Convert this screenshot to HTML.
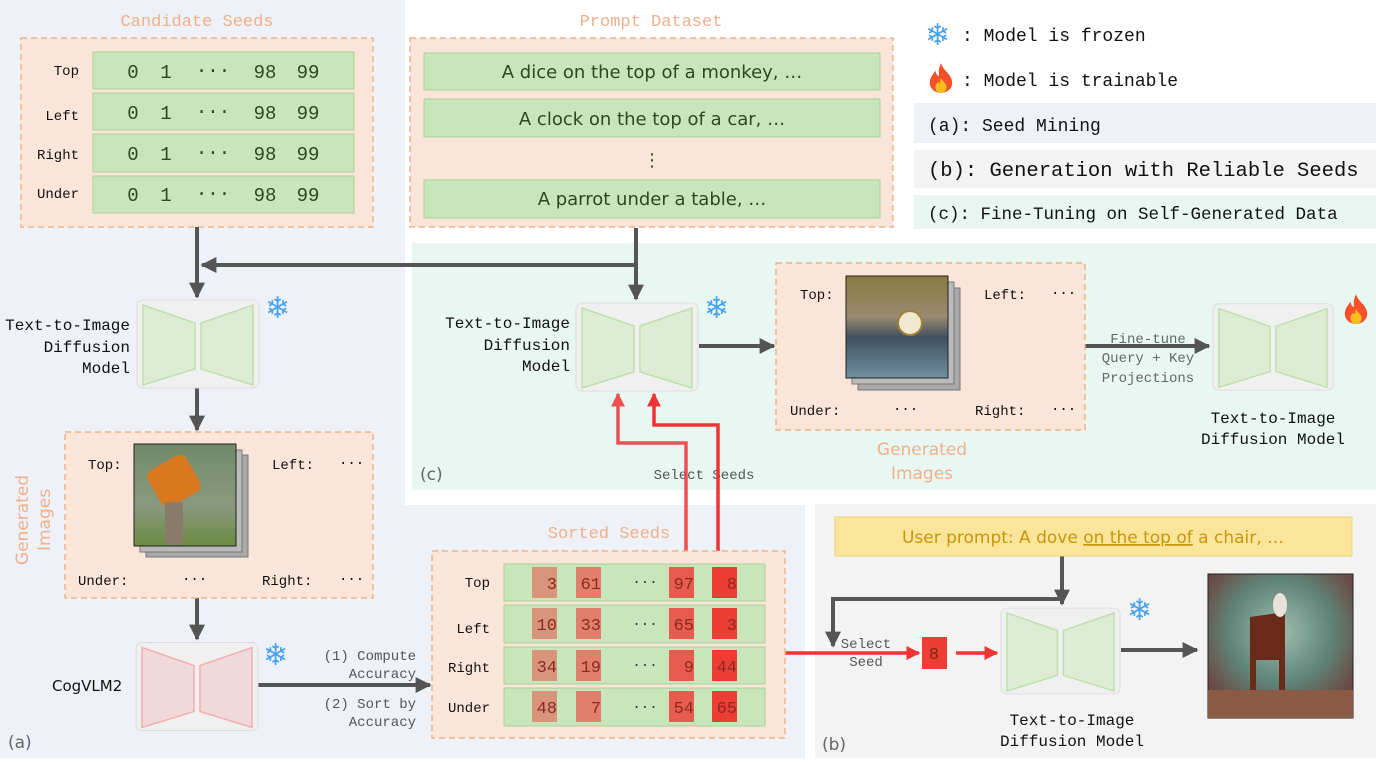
<!DOCTYPE html>
<html><head><meta charset="utf-8"><style>
html,body{margin:0;padding:0;background:#fff;}
svg{display:block;}
.m{font-family:"Liberation Mono","DejaVu Sans Mono",monospace;}
.s{font-family:"DejaVu Sans","Liberation Sans",sans-serif;}
</style></head><body>
<svg width="1376" height="763" viewBox="0 0 1376 763" xmlns="http://www.w3.org/2000/svg">
<defs>
<marker id="ag" viewBox="0 0 10 10" refX="9" refY="5" markerWidth="4" markerHeight="4" orient="auto"><path d="M0,0L10,5L0,10z" fill="#555"/></marker>
<marker id="ar" viewBox="0 0 10 10" refX="9" refY="5" markerWidth="4" markerHeight="4" orient="auto"><path d="M0,0L10,5L0,10z" fill="#ee3434"/></marker>
<symbol id="model" viewBox="0 0 124 90"><rect x="1" y="1" width="122" height="88" rx="6" fill="#f0f0f0" stroke="#ddd"/><path d="M7,6L59,24L59,70L7,86z" fill="#ddecd2" stroke="#bfe0ad" stroke-width="1.5"/><path d="M65,24L117,6L117,86L65,70z" fill="#ddecd2" stroke="#bfe0ad" stroke-width="1.5"/></symbol>
<symbol id="modelp" viewBox="0 0 124 90"><rect x="1" y="1" width="122" height="88" rx="6" fill="#f0f0f0" stroke="#ddd"/><path d="M7,6L59,24L59,70L7,86z" fill="#f2d9d9" stroke="#f0b0b0" stroke-width="1.5"/><path d="M65,24L117,6L117,86L65,70z" fill="#f2d9d9" stroke="#f0b0b0" stroke-width="1.5"/></symbol>
<symbol id="fire" viewBox="0 0 30 34"><path d="M15,1C17,9 27,13 27,22C27,29 21,33 15,33C9,33 3,29 3,22C3,16 7,13 9,9C10,14 12,15 13,15C12,10 13,5 15,1z" fill="#f4502a"/><path d="M15,17C17,21 21,23 21,27C21,31 18,33 15,33C12,33 9,31 9,27C9,24 11,22 12,21C13,23 14,23 14,23C14,21 14,19 15,17z" fill="#fbbd1e"/></symbol>
<linearGradient id="dice" x1="0" y1="0" x2="0" y2="1"><stop offset="0" stop-color="#6f8a68"/><stop offset="0.6" stop-color="#8a9a80"/><stop offset="1" stop-color="#6a8a40"/></linearGradient>
<linearGradient id="road" x1="0" y1="0" x2="0" y2="1"><stop offset="0" stop-color="#8a7a40"/><stop offset="0.4" stop-color="#9a8a70"/><stop offset="0.6" stop-color="#405060"/><stop offset="1" stop-color="#7090a0"/></linearGradient>
<radialGradient id="dove" cx="0.5" cy="0.4" r="0.6"><stop offset="0" stop-color="#9fbdb0"/><stop offset="0.6" stop-color="#5f8378"/><stop offset="1" stop-color="#6a4a44"/></radialGradient>
</defs>

<rect x="0" y="0" width="405" height="758" fill="#eef1f7"/>
<rect x="405" y="505" width="400" height="253" fill="#eef1f7"/>
<rect x="412" y="243" width="964" height="247" fill="#e8f7f2"/>
<rect x="815" y="504" width="561" height="254" fill="#f4f3f3"/>
<rect x="914" y="103" width="462" height="40" fill="#eef1f7"/>
<rect x="914" y="150" width="462" height="38" fill="#f4f3f3"/>
<rect x="914" y="195" width="462" height="34" fill="#e8f7f2"/>

<text x="925" y="45" class="s" font-size="30" fill="#4aa3f0">❄</text>
<text x="962" y="41" class="m" font-size="18" fill="#111">: Model is frozen</text>
<use href="#fire" x="927" y="62" width="28" height="32"/>
<text x="962" y="86" class="m" font-size="18" fill="#111">: Model is trainable</text>
<text x="928" y="131" class="m" font-size="18" fill="#111">(a): Seed Mining</text>
<text x="928" y="176" class="m" font-size="20.5" fill="#111">(b): Generation with Reliable Seeds</text>
<text x="928" y="219" class="m" font-size="17.5" fill="#111">(c): Fine-Tuning on Self-Generated Data</text>

<text x="197" y="26" class="m" font-size="17" fill="#f0b08a" text-anchor="middle">Candidate Seeds</text>
<rect x="21" y="38" width="352" height="189" fill="#fbe5d8" stroke="#f0b48a" stroke-width="1.5" stroke-dasharray="6,4"/>
<g class="m" font-size="14" fill="#111" text-anchor="end">
<text x="79" y="75">Top</text><text x="79" y="120">Left</text><text x="79" y="159">Right</text><text x="79" y="198">Under</text></g>
<g fill="#c9e5bb" stroke="#a7d494">
<rect x="93" y="52" width="261" height="37"/><rect x="93" y="93" width="261" height="37"/><rect x="93" y="134" width="261" height="38"/><rect x="93" y="176" width="261" height="37"/></g>
<g class="m" font-size="19" fill="#2a4a20" text-anchor="middle">
<text x="133" y="78">0</text><text x="166" y="78">1</text><text x="213" y="76">···</text><text x="265" y="78">98</text><text x="308" y="78">99</text>
<text x="133" y="119">0</text><text x="166" y="119">1</text><text x="213" y="117">···</text><text x="265" y="119">98</text><text x="308" y="119">99</text>
<text x="133" y="160">0</text><text x="166" y="160">1</text><text x="213" y="158">···</text><text x="265" y="160">98</text><text x="308" y="160">99</text>
<text x="133" y="201">0</text><text x="166" y="201">1</text><text x="213" y="199">···</text><text x="265" y="201">98</text><text x="308" y="201">99</text></g>

<text x="651" y="26" class="m" font-size="17" fill="#f0b08a" text-anchor="middle">Prompt Dataset</text>
<rect x="410" y="38" width="483" height="189" fill="#fbe5d8" stroke="#f0b48a" stroke-width="1.5" stroke-dasharray="6,4"/>
<g fill="#c9e5bb" stroke="#a7d494">
<rect x="424" y="53" width="456" height="37"/><rect x="424" y="99" width="456" height="38"/><rect x="424" y="180" width="456" height="38"/></g>
<g class="s" font-size="18" fill="#2a4a20" text-anchor="middle">
<text x="652" y="78">A dice on the top of a monkey, …</text>
<text x="652" y="125">A clock on the top of a car, …</text>
<text x="652" y="166">⋮</text>
<text x="652" y="205">A parrot under a table, …</text></g>

<g stroke="#555" stroke-width="4" fill="none">
<line x1="197" y1="227" x2="197" y2="297" marker-end="url(#ag)"/>
<line x1="636" y1="265" x2="202" y2="265" marker-end="url(#ag)"/>
<line x1="636" y1="228" x2="636" y2="299" marker-end="url(#ag)"/>
<line x1="197" y1="388" x2="197" y2="430" marker-end="url(#ag)"/>
<line x1="197" y1="598" x2="197" y2="639" marker-end="url(#ag)"/>
<line x1="258" y1="685" x2="430" y2="685" marker-end="url(#ag)"/>
<line x1="699" y1="346" x2="774" y2="346" marker-end="url(#ag)"/>
<line x1="1085" y1="346" x2="1209" y2="346" marker-end="url(#ag)"/>
<line x1="1121" y1="650" x2="1197" y2="650" marker-end="url(#ag)"/>
<line x1="1062" y1="556" x2="1062" y2="604" marker-end="url(#ag)"/>
<polyline points="1062,599 833,599 833,646" marker-end="url(#ag)"/>
</g>

<use href="#model" x="136" y="299" width="124" height="90"/>
<text x="265" y="318" class="s" font-size="30" fill="#4aa3f0">❄</text>
<g class="m" font-size="16" fill="#111" text-anchor="end"><text x="130" y="330">Text-to-Image</text><text x="130" y="352">Diffusion</text><text x="130" y="373">Model</text></g>

<rect x="65" y="432" width="308" height="166" fill="#fbe5d8" stroke="#f0b48a" stroke-width="1.5" stroke-dasharray="6,4"/>
<rect x="146" y="455" width="102" height="102" fill="#aaa" stroke="#777"/>
<rect x="140" y="450" width="102" height="102" fill="#bbb" stroke="#777"/>
<rect x="134" y="444" width="102" height="102" fill="url(#dice)" stroke="#222"/>
<rect x="152" y="460" width="44" height="42" rx="8" fill="#d9781e" transform="rotate(-30 174 481)"/>
<rect x="165" y="502" width="18" height="43" fill="#8a7a6a"/>
<g class="m" font-size="14" fill="#111"><text x="88" y="469">Top:</text><text x="272" y="469">Left:</text><text x="339" y="467">···</text>
<text x="78" y="585">Under:</text><text x="182" y="583">···</text><text x="262" y="585">Right:</text><text x="339" y="583">···</text></g>
<text transform="translate(28 520) rotate(-90)" class="s" font-size="17" fill="#f0b08a" text-anchor="middle">Generated</text>
<text transform="translate(50 520) rotate(-90)" class="s" font-size="17" fill="#f0b08a" text-anchor="middle">Images</text>

<use href="#modelp" x="135" y="641" width="124" height="91"/>
<text x="263" y="665" class="s" font-size="30" fill="#4aa3f0">❄</text>
<text x="52" y="691" class="s" font-size="15" fill="#111">CogVLM2</text>
<g class="m" font-size="14" fill="#555" text-anchor="end"><text x="416" y="660">(1) Compute</text><text x="416" y="678">Accuracy</text><text x="416" y="708">(2) Sort by</text><text x="416" y="726">Accuracy</text></g>
<text x="8" y="748" class="s" font-size="17" fill="#666">(a)</text>

<use href="#model" x="575" y="302" width="124" height="90"/>
<text x="704" y="318" class="s" font-size="30" fill="#4aa3f0">❄</text>
<g class="m" font-size="16" fill="#111" text-anchor="end"><text x="570" y="328">Text-to-Image</text><text x="570" y="350">Diffusion</text><text x="570" y="371">Model</text></g>
<rect x="776" y="263" width="309" height="167" fill="#fbe5d8" stroke="#f0b48a" stroke-width="1.5" stroke-dasharray="6,4"/>
<rect x="858" y="288" width="102" height="102" fill="#aaa" stroke="#777"/>
<rect x="852" y="282" width="102" height="102" fill="#bbb" stroke="#777"/>
<rect x="846" y="276" width="102" height="102" fill="url(#road)" stroke="#222"/>
<circle cx="910" cy="323" r="12" fill="#f0e8d0" stroke="#a08030" stroke-width="2"/>
<g class="m" font-size="14" fill="#111"><text x="800" y="299">Top:</text><text x="984" y="299">Left:</text><text x="1051" y="297">···</text>
<text x="790" y="415">Under:</text><text x="893" y="413">···</text><text x="975" y="415">Right:</text><text x="1051" y="413">···</text></g>
<g class="s" font-size="17" fill="#f0b08a" text-anchor="middle"><text x="922" y="455">Generated</text><text x="922" y="479">Images</text></g>
<g class="m" font-size="14" fill="#666" text-anchor="middle"><text x="1148" y="343">Fine-tune</text><text x="1148" y="362">Query + Key</text><text x="1148" y="382">Projections</text></g>
<use href="#model" x="1212" y="302" width="122" height="90"/>
<use href="#fire" x="1342" y="292" width="28" height="34"/>
<g class="m" font-size="16" fill="#111" text-anchor="middle"><text x="1273" y="423">Text-to-Image</text><text x="1273" y="444">Diffusion Model</text></g>
<text x="420" y="480" class="s" font-size="17" fill="#666">(c)</text>
<text x="704" y="479" class="m" font-size="14" fill="#555" text-anchor="middle">Select Seeds</text>

<g stroke="#ee3434" stroke-width="3.5" fill="none">
<polyline points="686,551 686,443 618,443 618,394" marker-end="url(#ar)" opacity="0.85"/>
<polyline points="718,551 718,425 654,425 654,394" marker-end="url(#ar)"/>
<line x1="785" y1="653" x2="919" y2="653" marker-end="url(#ar)"/>
<line x1="956" y1="653" x2="997" y2="653" marker-end="url(#ar)"/>
</g>

<text x="609" y="538" class="m" font-size="17" fill="#f0b08a" text-anchor="middle">Sorted Seeds</text>
<rect x="432" y="551" width="353" height="187" fill="#fbe5d8" stroke="#f0b48a" stroke-width="1.5" stroke-dasharray="6,4"/>
<g class="m" font-size="14" fill="#111" text-anchor="end"><text x="490" y="587">Top</text><text x="490" y="633">Left</text><text x="490" y="672">Right</text><text x="490" y="712">Under</text></g>
<g fill="#c9e5bb" stroke="#a7d494">
<rect x="504" y="564" width="261" height="37"/><rect x="504" y="605" width="261" height="38"/><rect x="504" y="647" width="261" height="37"/><rect x="504" y="688" width="261" height="38"/></g>
<g>
<rect x="532" y="567" width="25" height="31" fill="#d9957b"/><rect x="576" y="567" width="25" height="31" fill="#e0806b"/><rect x="669" y="567" width="25" height="31" fill="#e85c50"/><rect x="712" y="567" width="25" height="31" fill="#ee3d35"/>
<rect x="532" y="608" width="25" height="31" fill="#d9957b"/><rect x="576" y="608" width="25" height="31" fill="#e0806b"/><rect x="669" y="608" width="25" height="31" fill="#e85c50"/><rect x="712" y="608" width="25" height="31" fill="#ee3d35"/>
<rect x="532" y="650" width="25" height="31" fill="#d9957b"/><rect x="576" y="650" width="25" height="31" fill="#e0806b"/><rect x="669" y="650" width="25" height="31" fill="#e85c50"/><rect x="712" y="650" width="25" height="31" fill="#ee3d35"/>
<rect x="532" y="691" width="25" height="31" fill="#d9957b"/><rect x="576" y="691" width="25" height="31" fill="#e0806b"/><rect x="669" y="691" width="25" height="31" fill="#e85c50"/><rect x="712" y="691" width="25" height="31" fill="#ee3d35"/>
</g>
<g class="m" font-size="17" fill="#8a2a20" text-anchor="end">
<text x="557" y="589">3</text><text x="601" y="589">61</text><text x="694" y="589">97</text><text x="737" y="589">8</text>
<text x="557" y="630">10</text><text x="601" y="630">33</text><text x="694" y="630">65</text><text x="737" y="630">3</text>
<text x="557" y="672">34</text><text x="601" y="672">19</text><text x="694" y="672">9</text><text x="737" y="672">44</text>
<text x="557" y="713">48</text><text x="601" y="713">7</text><text x="694" y="713">54</text><text x="737" y="713">65</text></g>
<g class="m" font-size="14" fill="#333" text-anchor="middle"><text x="645" y="586">···</text><text x="645" y="628">···</text><text x="645" y="669">···</text><text x="645" y="711">···</text></g>

<rect x="835" y="517" width="517" height="39" fill="#fbe59a" stroke="#f0d37a"/>
<text x="1093" y="543" class="s" font-size="17" fill="#c8960a" text-anchor="middle">User prompt: A dove <tspan text-decoration="underline">on the top of</tspan> a chair, …</text>
<g class="m" font-size="14" fill="#555" text-anchor="middle"><text x="866" y="648">Select</text><text x="866" y="666">Seed</text></g>
<rect x="922" y="637" width="25" height="32" fill="#ee3d35"/>
<text x="934" y="659" class="m" font-size="17" fill="#7a2a10" text-anchor="middle">8</text>
<use href="#model" x="1000" y="606" width="121" height="90"/>
<text x="1127" y="620" class="s" font-size="30" fill="#4aa3f0">❄</text>
<g class="m" font-size="16" fill="#111" text-anchor="middle"><text x="1072" y="725">Text-to-Image</text><text x="1072" y="746">Diffusion Model</text></g>
<rect x="1208" y="574" width="145" height="144" fill="url(#dove)" stroke="#222"/>
<rect x="1208" y="690" width="145" height="28" fill="#8a5a44"/>
<path d="M1250,617L1285,612L1285,690L1279,690L1279,660L1256,660L1256,690L1250,690z" fill="#6a2a1a"/>
<ellipse cx="1280" cy="605" rx="7" ry="12" fill="#e8e2da"/>
<text x="822" y="750" class="s" font-size="17" fill="#666">(b)</text>
</svg>
</body></html>
